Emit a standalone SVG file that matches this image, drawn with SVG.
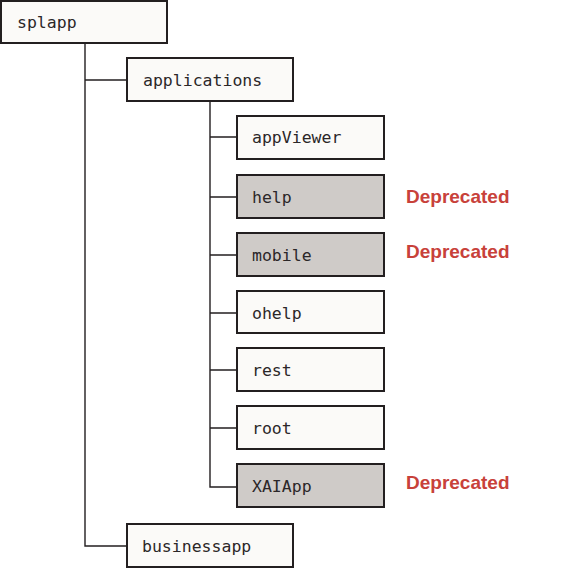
<svg xmlns="http://www.w3.org/2000/svg" width="576" height="570" viewBox="0 0 576 570">
<style>
.box{fill:#fbfaf8;stroke:#231f20;stroke-width:2}
.dep{fill:#cfcbc8;stroke:#231f20;stroke-width:2}
.lbl{font-family:"DejaVu Sans Mono","Liberation Mono",monospace;font-size:16.5px;fill:#2b2728}
.red{font-family:"Liberation Sans",Arial,sans-serif;font-size:19px;font-weight:bold;fill:#c8413a}
.ln{fill:none;stroke:#231f20;stroke-width:1.4}
</style>
<rect width="576" height="570" fill="#ffffff"/>
<g id="connectors">
<path class="ln" d="M85 43V546H127M85 80H127"/>
<path class="ln" d="M210 101V487H237M210 137H237M210 197H237M210 255H237M210 313H237M210 370H237M210 428H237"/>
</g>
<g id="splapp"><rect class="box" x="1" y="1" width="166" height="42"/><text class="lbl" x="17" y="28">splapp</text></g>
<g id="applications"><rect class="box" x="127" y="58" width="166" height="43"/><text class="lbl" x="143" y="86">applications</text></g>
<g id="appViewer"><rect class="box" x="237" y="116" width="147" height="43"/><text class="lbl" x="252" y="143">appViewer</text></g>
<g id="help"><rect class="dep" x="237" y="175" width="147" height="43"/><text class="lbl" x="252" y="203">help</text><text class="red" x="406" y="203">Deprecated</text></g>
<g id="mobile"><rect class="dep" x="237" y="233" width="147" height="43"/><text class="lbl" x="252" y="261">mobile</text><text class="red" x="406" y="258">Deprecated</text></g>
<g id="ohelp"><rect class="box" x="237" y="291" width="147" height="42"/><text class="lbl" x="252" y="319">ohelp</text></g>
<g id="rest"><rect class="box" x="237" y="348" width="147" height="43"/><text class="lbl" x="252" y="376">rest</text></g>
<g id="root"><rect class="box" x="237" y="406" width="147" height="43"/><text class="lbl" x="252" y="434">root</text></g>
<g id="XAIApp"><rect class="dep" x="237" y="464" width="147" height="43"/><text class="lbl" x="252" y="492">XAIApp</text><text class="red" x="406" y="489">Deprecated</text></g>
<g id="businessapp"><rect class="box" x="127" y="524" width="166" height="43"/><text class="lbl" x="142" y="552">businessapp</text></g>
</svg>
